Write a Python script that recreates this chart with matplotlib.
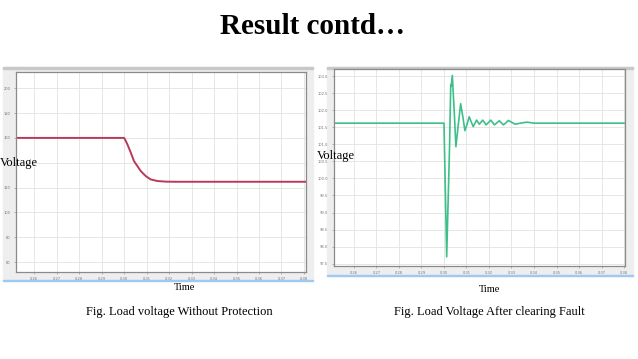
import numpy as np
import matplotlib
matplotlib.use("Agg")
import matplotlib.pyplot as plt
from matplotlib.patches import Rectangle

W, H = 638, 359

# --- data -------------------------------------------------------------------
left_t = [0.252, 0.300, 0.3008, 0.3015, 0.3030, 0.3044, 0.3059, 0.3074, 0.3096,
          0.3118, 0.3148, 0.3186, 0.3230, 0.381]
left_v = [160.0, 160.0, 157.3, 154.6, 148.0, 141.3, 137.3, 133.3, 129.3,
          126.6, 125.3, 124.8, 124.7, 124.7]

right_t = [0.251, 0.3000, 0.3012, 0.3025, 0.3030, 0.3032, 0.3037, 0.3046, 0.3053,
           0.3064, 0.3074, 0.3084, 0.3093, 0.3103, 0.3112, 0.3121, 0.3130,
           0.3138, 0.3145, 0.3151, 0.3157, 0.3165, 0.3172, 0.3180, 0.3187,
           0.3198, 0.3208, 0.3216, 0.3224, 0.3235, 0.3246, 0.3255, 0.3264,
           0.3275, 0.3286, 0.3300, 0.3316, 0.3340, 0.3368, 0.3400, 0.380]
right_v = [101.62, 101.62, 97.70, 101.0, 102.75, 102.70, 103.02, 101.9, 100.93,
           101.6, 102.19, 101.8, 101.40, 101.6, 101.81, 101.66, 101.52,
           101.62, 101.71, 101.65, 101.59, 101.65, 101.71, 101.64, 101.57,
           101.64, 101.71, 101.64, 101.57, 101.63, 101.69, 101.63, 101.57,
           101.63, 101.70, 101.65, 101.59, 101.62, 101.65, 101.62, 101.62]

xticks = [0.26, 0.27, 0.28, 0.29, 0.30, 0.31, 0.32, 0.33, 0.34, 0.35, 0.36, 0.37, 0.38]
xtick_labels = [f"{v:.2f}" for v in xticks]
left_yticks = [60, 80, 100, 120, 140, 160, 180, 200]
left_ytick_labels = ["60", "80", "100", "120", "", "160", "180", "200"]  # 140 hidden by "Voltage"
right_yticks = [97.5, 98.0, 98.5, 99.0, 99.5, 100.0, 100.5, 101.0, 101.5, 102.0, 102.5, 103.0]
right_ytick_labels = [f"{v:.1f}" for v in right_yticks]

plt.rcParams['font.family'] = ['Liberation Serif', 'DejaVu Serif']

fig = plt.figure(figsize=(W/100, H/100), dpi=100)


def px(x0, y0, x1, y1):
    # pixel box (top-left origin) -> figure fraction rect
    return [x0/W, 1 - y1/H, (x1-x0)/W, (y1-y0)/H]


def panel(x0, y0, x1, blue_y):
    for rect, col in [((x0, y0, x1, blue_y), "#eeeeee"),
                      ((x0, y0, x1, y0 + 1.5), "#c8c8c8"),
                      ((x0, blue_y - 0.5, x1, blue_y + 1), "#9ccaf0")]:
        l, b, w, h = px(*rect)
        fig.patches.append(Rectangle((l, b), w, h, transform=fig.transFigure,
                                     color=col, zorder=-5))


def style(ax, xlim, ylim, yticks, ylabels):
    ax.set_facecolor("white")
    ax.set_zorder(2)
    ax.set_xlim(*xlim); ax.set_ylim(*ylim)
    ax.set_xticks(xticks); ax.set_yticks(yticks)
    ax.set_xticklabels(xtick_labels)
    ax.set_yticklabels(ylabels)
    ax.tick_params(labelsize=2.6, labelcolor="#777777", length=1.5, width=0.5,
                   color="#999999", pad=2.5, labelfontfamily="DejaVu Sans")
    ax.grid(color="#e2e2e2", lw=0.6)
    for s in ax.spines.values():
        s.set_color("#8a8a8a"); s.set_linewidth(0.9)


panel(3, 67, 313, 280)
axL = fig.add_axes(px(16, 71.7, 306, 271.7))
style(axL, (0.2519, 0.3809), (52.3, 213.3), left_yticks, left_ytick_labels)
axL.plot(left_t, left_v, color="#b8395b", lw=1.4)

panel(327, 67, 633, 275)
axR = fig.add_axes(px(333.7, 69.3, 624.7, 265.7))
style(axR, (0.251, 0.3803), (97.44, 103.2), right_yticks, right_ytick_labels)
axR.plot(right_t, right_v, color="#3dbf8a", lw=1.2)

# --- slide texts --------------------------------------------------------------
fig.text(313/W, 1 - 27/H, "Result contd\u2026", ha="center", va="center",
         fontsize=21, fontweight="bold")
fig.text(0/W, 1 - 163/H, "Voltage", ha="left", va="center", fontsize=9, zorder=5)
fig.text(317/W, 1 - 156/H, "Voltage", ha="left", va="center", fontsize=9, zorder=5)
fig.text(185/W, 1 - 287/H, "Time", ha="center", va="center", fontsize=7.5)
fig.text(490/W, 1 - 290/H, "Time", ha="center", va="center", fontsize=7.5)
fig.text(179/W, 1 - 312/H, "Fig. Load voltage Without Protection",
         ha="center", va="center", fontsize=9)
fig.text(489/W, 1 - 312/H, "Fig. Load Voltage After clearing Fault",
         ha="center", va="center", fontsize=9)

fig.savefig("out.png", dpi=100, facecolor="white")
